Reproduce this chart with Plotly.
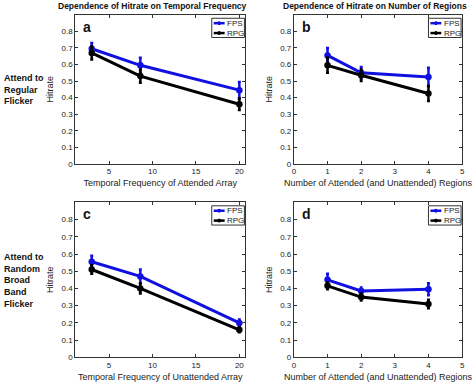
import plotly.graph_objects as go

# ---- data ----
freq = [3, 8.6, 20]
regions = [1, 2, 4]

a_fps = [0.695, 0.595, 0.445]
a_fps_err = [0.035, 0.045, 0.05]
a_rpg = [0.67, 0.53, 0.36]
a_rpg_err = [0.04, 0.04, 0.035]

b_fps = [0.655, 0.55, 0.525]
b_fps_err = [0.045, 0.035, 0.055]
b_rpg = [0.595, 0.535, 0.425]
b_rpg_err = [0.045, 0.035, 0.045]

c_fps = [0.555, 0.47, 0.2]
c_fps_err = [0.035, 0.04, 0.02]
c_rpg = [0.51, 0.40, 0.16]
c_rpg_err = [0.025, 0.03, 0.015]

d_fps = [0.45, 0.385, 0.395]
d_fps_err = [0.035, 0.02, 0.035]
d_rpg = [0.415, 0.35, 0.31]
d_rpg_err = [0.02, 0.02, 0.025]

series_names = ["FPS", "RPG"]
yticks = [0, 0.1, 0.2, 0.3, 0.4, 0.5, 0.6, 0.7, 0.8]
freq_ticks = [5, 10, 15, 20]
region_ticks = [0, 1, 2, 3, 4, 5]

BLUE = "#1010e0"
BLACK = "#000000"
COLORS = [BLUE, BLACK]
FONT = "Liberation Sans, Arial, sans-serif"

W, H = 474, 387

def px(x0, x1):
    return [x0 / W, x1 / W]

def py(top, bottom):
    return [1 - bottom / H, 1 - top / H]

panels = [
    dict(x=freq, fps=a_fps, fe=a_fps_err, rpg=a_rpg, re=a_rpg_err,
         px=(74, 246), py=(15, 166), xr=[1.1, 20.7], xt=freq_ticks,
         xtitle="Temporal Frequency of Attended Array", letter="a"),
    dict(x=regions, fps=b_fps, fe=b_fps_err, rpg=b_rpg, re=b_rpg_err,
         px=(295, 465), py=(15, 166), xr=[0, 5], xt=region_ticks,
         xtitle="Number of Attended (and Unattended) Regions", letter="b"),
    dict(x=freq, fps=c_fps, fe=c_fps_err, rpg=c_rpg, re=c_rpg_err,
         px=(74, 246), py=(205, 362), xr=[1.1, 20.7], xt=freq_ticks,
         xtitle="Temporal Frequency of Unattended Array", letter="c"),
    dict(x=regions, fps=d_fps, fe=d_fps_err, rpg=d_rpg, re=d_rpg_err,
         px=(295, 465), py=(205, 362), xr=[0, 5], xt=region_ticks,
         xtitle="Number of Attended (and Unattended) Regions", letter="d"),
]

fig = go.Figure()
layout = dict(
    width=W, height=H,
    margin=dict(l=0, r=0, t=0, b=0),
    paper_bgcolor="white", plot_bgcolor="white",
    font=dict(family=FONT, size=8, color="#222"),
    showlegend=False,
)
annotations = []
shapes = []

for i, p in enumerate(panels):
    n = "" if i == 0 else str(i + 1)
    xa, ya = "x" + n, "y" + n
    pw = p["px"][1] - p["px"][0]
    ph = p["py"][1] - p["py"][0]
    for name, vals, errs, col in [(series_names[0], p["fps"], p["fe"], COLORS[0]),
                                   (series_names[1], p["rpg"], p["re"], COLORS[1])]:
        fig.add_trace(go.Scatter(
            x=p["x"], y=vals, name=name, mode="lines+markers",
            line=dict(color=col, width=3),
            marker=dict(color=col, size=6.5, symbol="circle"),
            error_y=dict(type="data", array=errs, color=col, thickness=2.5, width=1.5),
            xaxis=xa, yaxis=ya,
        ))
    axcommon = dict(showline=True, linecolor="#333", linewidth=1, mirror="ticks",
                    ticks="inside", ticklen=3, tickcolor="#333", showgrid=False,
                    zeroline=False, tickfont=dict(size=8, family=FONT, color="#222"))
    layout["xaxis" + n] = dict(domain=px(*p["px"]), range=p["xr"], tickvals=p["xt"],
                               anchor=ya, title=dict(text=p["xtitle"], standoff=4,
                               font=dict(size=9, family=FONT, color="#222")),
                               **axcommon)
    layout["yaxis" + n] = dict(domain=py(*p["py"]), range=[0, 0.9], tickvals=yticks,
                               anchor=xa, title=dict(text="Hitrate", standoff=6,
                               font=dict(size=9, family=FONT, color="#222")),
                               **axcommon)
    # panel letter
    annotations.append(dict(text="<b>%s</b>" % p["letter"], xref=xa + " domain", yref=ya + " domain",
                            x=6 / pw, y=1 - 2 / ph,
                            xanchor="left", yanchor="top", showarrow=False,
                            font=dict(size=14, family=FONT, color="#111")))
    # small legend box (MATLAB style), positioned relative to the panel
    lx0, lx1 = 1 - 34 / pw, 1 - 1 / pw
    ly1, ly0 = 1 - 3.5 / ph, 1 - 23 / ph
    shapes.append(dict(type="rect", xref=xa + " domain", yref=ya + " domain",
                       x0=lx0, x1=lx1, y0=ly0, y1=ly1,
                       line=dict(color="#333", width=1), fillcolor="white", layer="above"))
    for k, (nm, col) in enumerate(zip(series_names, COLORS)):
        yy = 1 - (8.5 + 10 * k) / ph
        shapes.append(dict(type="line", xref=xa + " domain", yref=ya + " domain",
                           x0=lx0 + 2 / pw, x1=lx0 + 13 / pw, y0=yy, y1=yy,
                           line=dict(color=col, width=2.5), layer="above"))
        shapes.append(dict(type="circle", xref=xa + " domain", yref=ya + " domain",
                           x0=lx0 + 6 / pw, x1=lx0 + 9 / pw, y0=yy - 1.5 / ph, y1=yy + 1.5 / ph,
                           line=dict(color=col, width=1), fillcolor=col, layer="above"))
        annotations.append(dict(text=nm, xref=xa + " domain", yref=ya + " domain",
                                x=lx0 + 13.5 / pw, y=yy, xanchor="left", yanchor="middle",
                                showarrow=False,
                                font=dict(size=8, family=FONT, color="#222")))

annotations += [
    dict(text="<b>Dependence of Hitrate on Temporal Frequency</b>", xref="paper", yref="paper",
         x=152 / W, y=1 - 6 / H, xanchor="center", yanchor="middle", showarrow=False,
         font=dict(size=8.5, family=FONT, color="#111")),
    dict(text="<b>Dependence of Hitrate on Number of Regions</b>", xref="paper", yref="paper",
         x=377 / W, y=1 - 6 / H, xanchor="center", yanchor="middle", showarrow=False,
         font=dict(size=8.5, family=FONT, color="#111")),
    dict(text="<b>Attend to<br>Regular<br>Flicker</b>", xref="paper", yref="paper",
         x=0, y=1 - 91 / H, xanchor="left", yanchor="middle", align="left", showarrow=False,
         font=dict(size=9, family=FONT, color="#111")),
    dict(text="<b>Attend to<br>Random<br>Broad<br>Band<br>Flicker</b>", xref="paper", yref="paper",
         x=0, y=1 - 284 / H, xanchor="left", yanchor="middle", align="left", showarrow=False,
         font=dict(size=9, family=FONT, color="#111")),
]
layout["annotations"] = annotations
layout["shapes"] = shapes
fig.update_layout(**layout)
fig.write_html("out.html", config={"displayModeBar": False},
               post_script="document.body.style.margin='0';document.body.style.overflow='hidden';")
